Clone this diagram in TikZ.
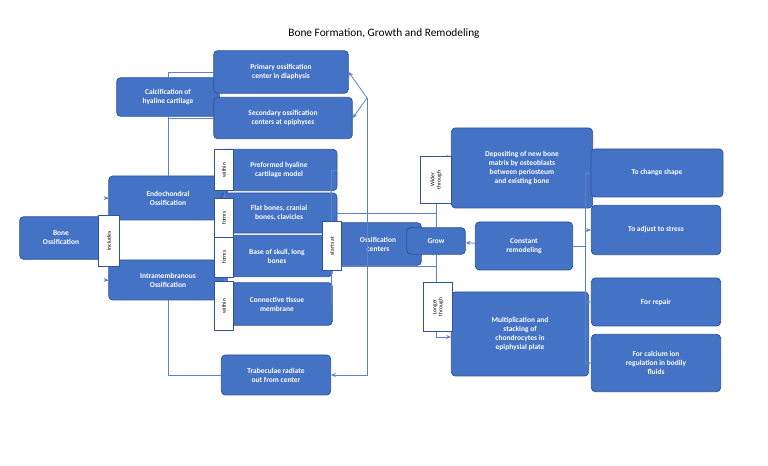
\documentclass[tikz,border=0pt]{standalone}
\usepackage{fontspec}
\setmainfont{Carlito}
\usetikzlibrary{arrows.meta}
\definecolor{boxblue}{RGB}{68,114,196}
\definecolor{boxedge}{RGB}{47,85,151}
\definecolor{linkblue}{RGB}{90,130,205}
\tikzset{every picture/.style={line width=0.75pt}}
\begin{document}
\begin{tikzpicture}[x=0.75pt,y=0.75pt,yscale=-1,xscale=1,
  box/.style={draw=boxedge,fill=boxblue,rounded corners=3pt,text=white,font=\fontsize{5.6}{6.8}\selectfont\bfseries,align=center,inner sep=1pt,line width=0.6pt},
  tag/.style={draw=boxedge,fill=white,rotate=90,font=\fontsize{4.2}{4.6}\selectfont,align=center,inner sep=1pt,line width=0.4pt},
  link/.style={draw=linkblue,line width=0.6pt},
  arr/.style={link,-{Stealth[length=3.5pt,width=3pt]}}]
\useasboundingbox (0,0) rectangle (768,466);

% Title
\node (title) at (384,34) {\fontsize{8.5}{10}\selectfont Bone Formation, Growth and Remodeling};

% Boxes
\node[box,minimum width=62,minimum height=32] (bone) at (61,238) {Bone\\Ossification};
\node[box,minimum width=89,minimum height=33] (endo) at (168,198) {Endochondral\\Ossification};
\node[box,minimum width=89,minimum height=30] (intra) at (168,280) {Intramembranous\\Ossification};
\node[box,minimum width=77,minimum height=29] (calc) at (168,97) {Calcification of\\hyaline cartilage};
\node[box,minimum width=101,minimum height=32] (prim) at (281,72) {Primary ossification\\center in diaphysis};
\node[box,minimum width=104,minimum height=31] (sec) at (283,118) {Secondary ossification\\centers at epiphyses};
\node[box,minimum width=87,minimum height=31] (pref) at (279,170) {Preformed hyaline\\cartilage model};
\node[box,minimum width=87,minimum height=30] (flat) at (279,213) {Flat bones, cranial\\bones, clavicles};
\node[box,minimum width=83,minimum height=31] (base) at (277,256) {Base of skull, long\\bones};
\node[box,minimum width=83,minimum height=32] (conn) at (277,304) {Connective tissue\\membrane};
\node[box,minimum width=82,minimum height=30] (trab) at (276,375) {Trabeculae radiate\\out from center};
\node[box,minimum width=65,minimum height=32] (ossc) at (378,244) {Ossification\\centers};
\node[box,minimum width=44,minimum height=20] (grow) at (436,241) {Grow};
\node[box,minimum width=73,minimum height=36] (remod) at (524,246) {Constant\\remodeling};
\node[box,minimum width=106,minimum height=60] (depo) at (522,168) {Depositing of new bone\\matrix by osteoblasts\\between periosteum\\and existing bone};
\node[box,minimum width=103,minimum height=63] (mult) at (520,334) {Multiplication and\\stacking of\\chondrocytes in\\epiphysial plate};
\node[box,minimum width=99,minimum height=36] (shape) at (657,173) {To change shape};
\node[box,minimum width=97,minimum height=37] (stress) at (656,230) {To adjust to stress};
\node[box,minimum width=97,minimum height=36] (repair) at (656,302) {For repair};
\node[box,minimum width=97,minimum height=43] (calcium) at (656,363) {For calcium ion\\regulation in bodily\\fluids};

% Connectors
\coordinate (busA) at (108,238);
\draw[link] (bone) -- (busA);
\draw[arr] (busA) |- (endo);
\draw[arr] (busA) |- (intra);
\draw[link] (endo) -- (calc);
\draw[link] (calc.north) |- (prim.west);
\draw[link] (168,118) -- (sec.west);
\coordinate (busB) at (224,198);
\draw[link] (endo) -- (busB);
\draw[arr] (busB) |- (pref);
\draw[arr] (busB) |- (flat);
\coordinate (busC) at (224,280);
\draw[link] (intra) -- (busC);
\draw[arr] (busC) |- (base);
\draw[arr] (busC) |- (conn);
\draw[link] (intra.south) |- (trab.west);
\coordinate (busD) at (331,244);
\draw[link] (pref.east) -| (busD);
\draw[link] (conn.east) -| (busD);
\draw[arr] (busD) -- (ossc);
\draw[link] (flat.east) -- (436,213) -- (grow.north);
\draw[link] (base.east |- 0,266) -- (436,266) -- (grow.south);
\coordinate (fan) at (367,98);
\draw[arr] (fan) -- (prim.east);
\draw[arr] (fan) -- (sec.east);
\draw[arr] (fan) |- (trab.east);
\draw[arr] (grow.north) |- (depo.west |- 0,157);
\draw[arr] (grow.south) |- (mult.west |- 0,337);
\draw[arr] (remod) -- (grow);
\coordinate (busE) at (585,246);
\draw[link] (remod) -- (busE);
\draw[arr] (busE) |- (shape);
\draw[arr] (busE) |- (stress);
\draw[arr] (busE) |- (repair);
\draw[arr] (busE) |- (calcium);

% Labels on connectors
\node[tag,minimum width=38,minimum height=16] (tinc) at (109,241) {includes};
\node[tag,minimum width=31,minimum height=14] (twi1) at (224,170) {within};
\node[tag,minimum width=30,minimum height=14] (tfo1) at (224,218) {forms};
\node[tag,minimum width=30,minimum height=14] (tfo2) at (224,257) {forms};
\node[tag,minimum width=37,minimum height=14] (twi2) at (224,306) {within};
\node[tag,minimum width=37,minimum height=14] (tst) at (332,246) {starts at};
\node[tag,minimum width=35,minimum height=23] (twid) at (436,180) {Wider\\through};
\node[tag,minimum width=37,minimum height=22] (tlon) at (438,307) {Longer\\through};
\end{tikzpicture}
\end{document}
